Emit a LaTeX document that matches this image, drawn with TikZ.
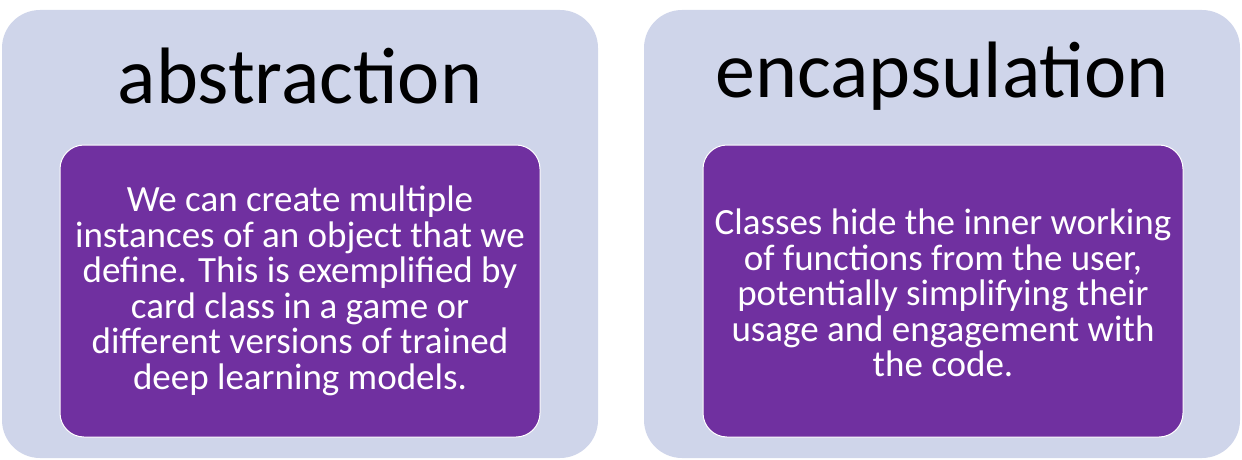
\documentclass[tikz,border=0pt]{standalone}
\usepackage{fontspec}
\setmainfont{Carlito}
\definecolor{outerc}{HTML}{CFD5EA}
\definecolor{innerc}{HTML}{7030A0}
\begin{document}
\begin{tikzpicture}[x=1pt,y=-1pt,
  innerbox/.style={fill=innerc,draw=white,line width=1pt,rounded corners=24pt},
  title/.style={font=\fontsize{80}{86}\selectfont},
  body/.style={text=white,align=center,font=\fontsize{37}{35.5}\selectfont}]
\useasboundingbox (0,0) rectangle (1242,460);
\fill[outerc,rounded corners=38pt] (2,10) rectangle (598,458);
\fill[outerc,rounded corners=38pt] (644,10) rectangle (1240,458);
\node[title] (t1) at (300,76) {abstraction};
\node[title] (t2) at (942,76) {encapsulation};
\draw[innerbox] (60,145) rectangle (540,437);
\draw[innerbox] (703,145) rectangle (1183,437);
\node[body] (b1) at (300,291) {We can create multiple\\instances of an object that we\\define. This is exemplified by\\card class in a game or\\different versions of trained\\deep learning models.};
\node[body] (b2) at (943,293) {Classes hide the inner working\\of functions from the user,\\potentially simplifying their\\usage and engagement with\\the code.};
\end{tikzpicture}
\end{document}
